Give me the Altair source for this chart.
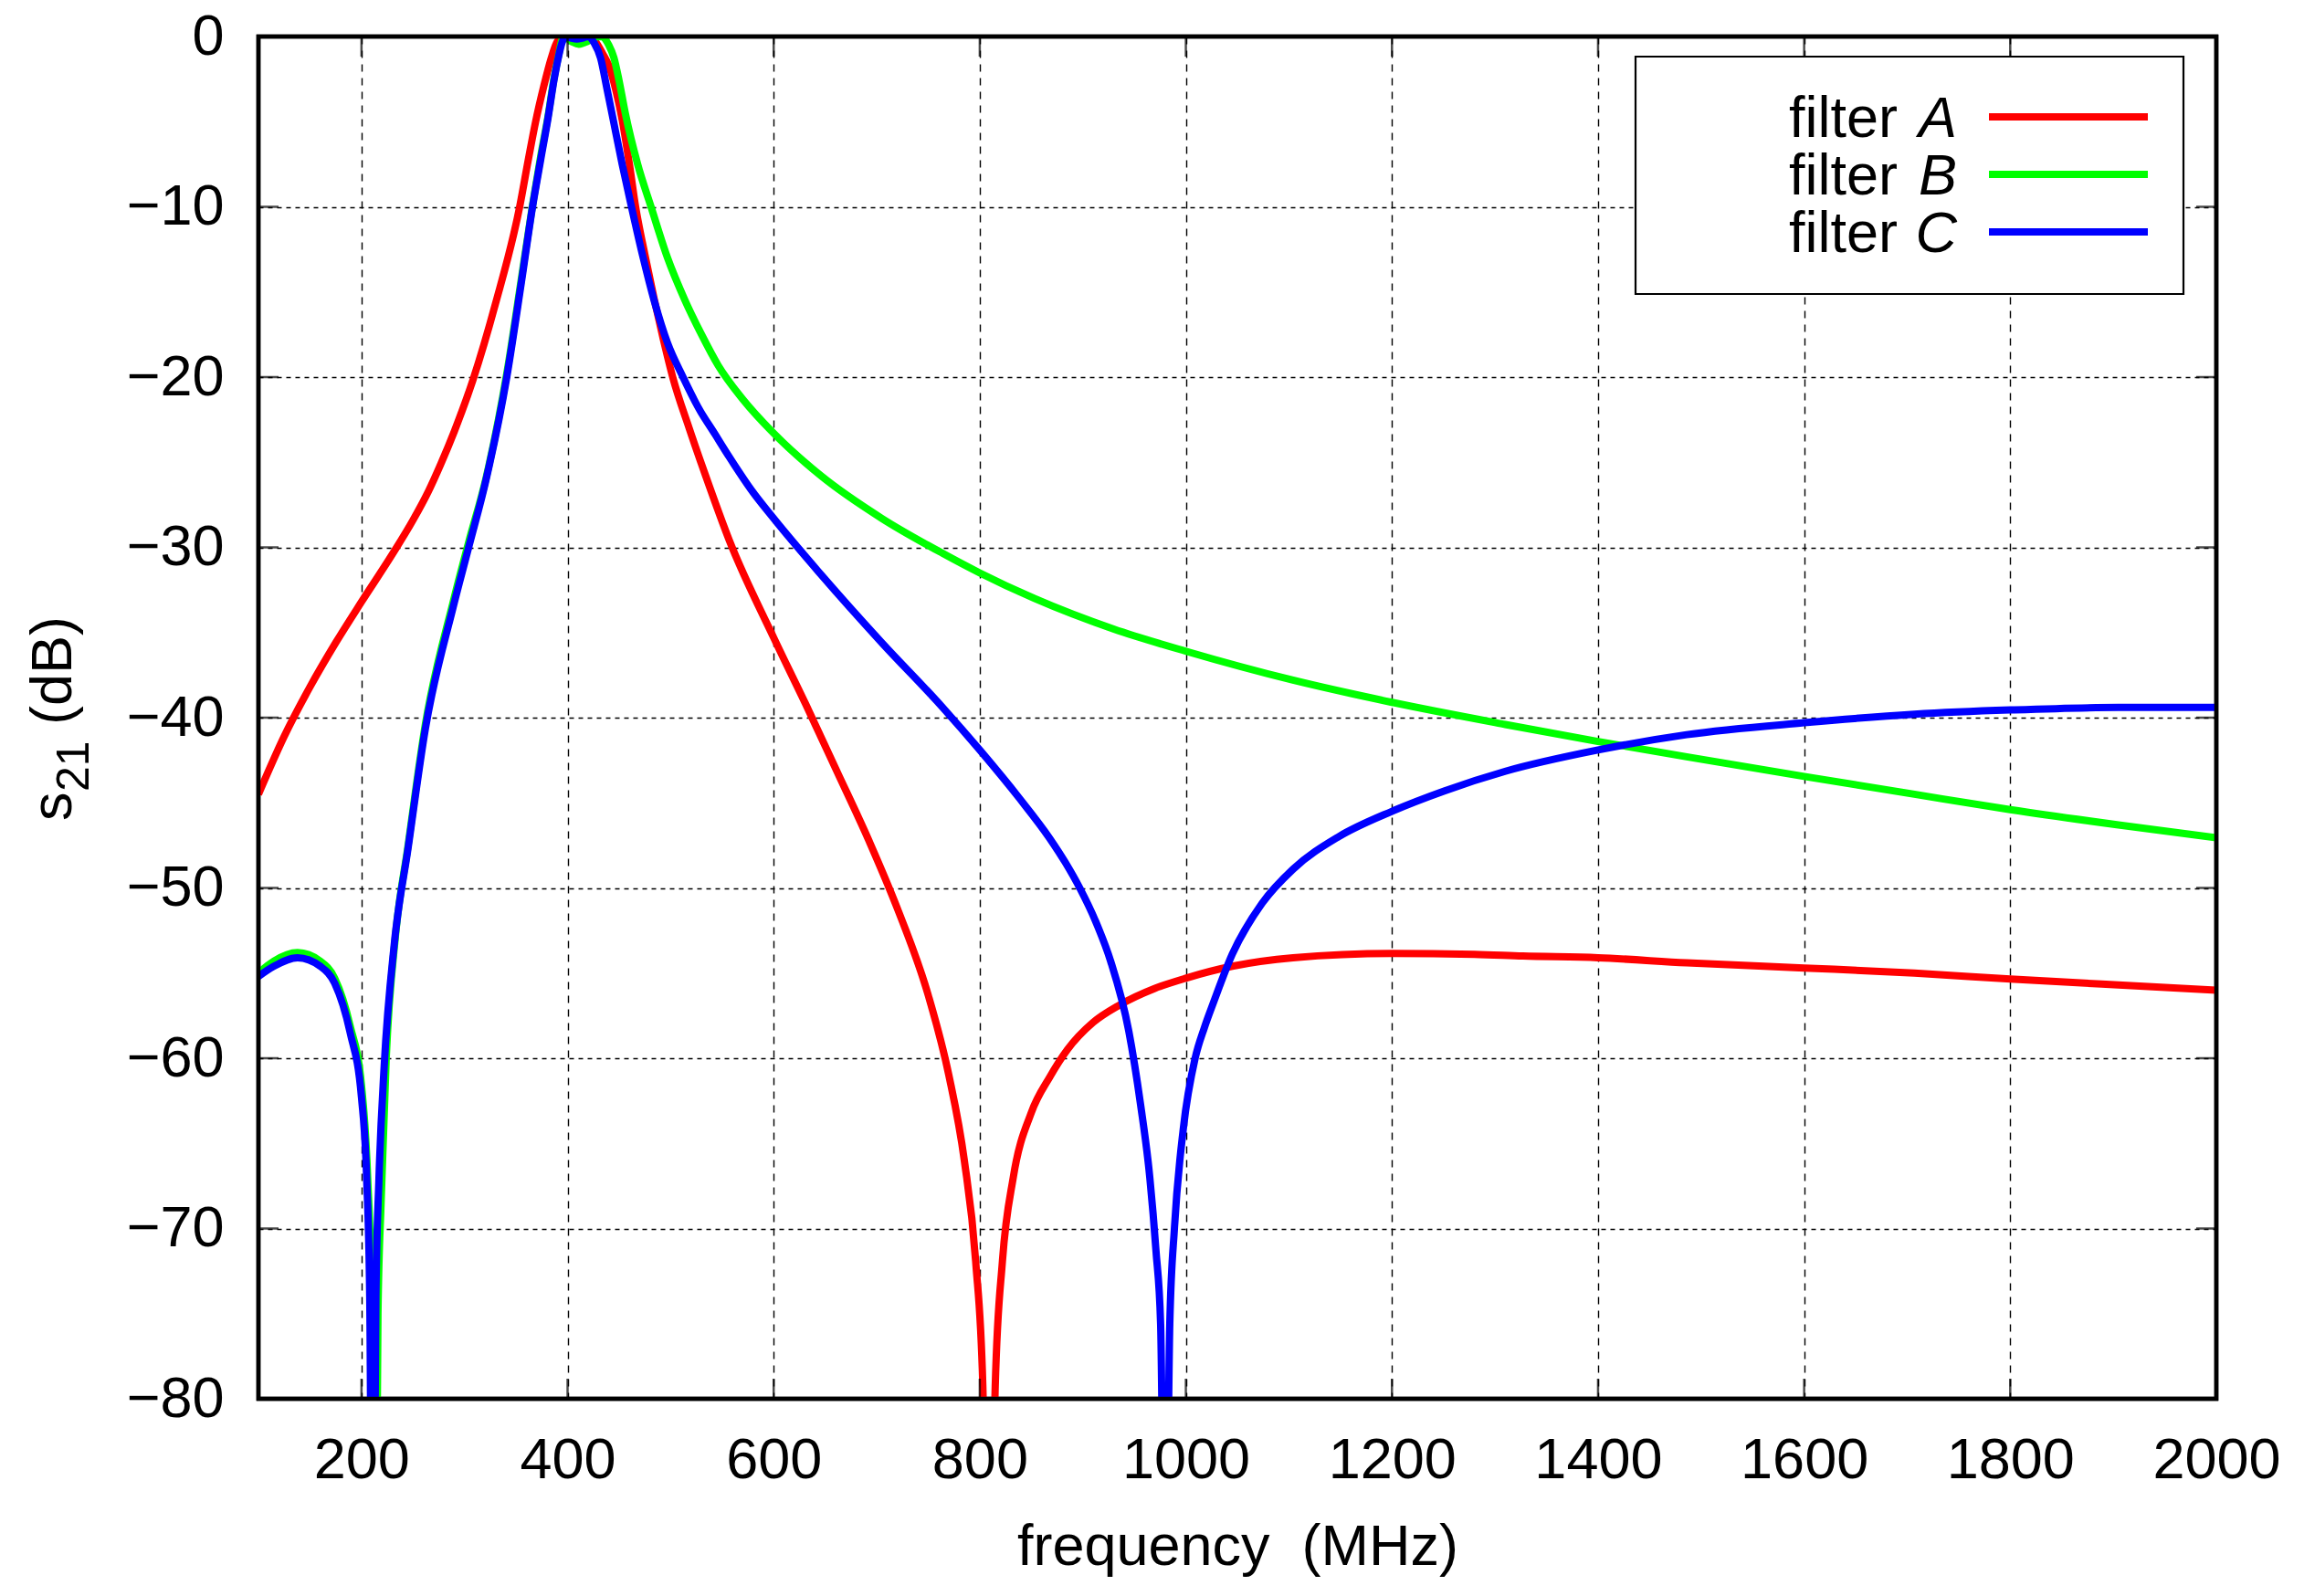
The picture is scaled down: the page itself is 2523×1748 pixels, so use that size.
import altair as alt
import pandas as pd

# ---- data (frequency MHz, s21 dB) ----
filter_a = [
    (100, -44.5), (125, -41.1), (150, -38.2), (175, -35.6), (200, -33.2), (230, -30.4),
    (250, -28.4), (265, -26.7), (277, -25.1), (290, -23.2), (308, -20.2), (330, -15.7),
    (353.5, -10.0), (362, -7.2), (369, -5.0), (377, -2.9), (384, -1.3), (390, -0.3),
    (397, 0.0), (408, -0.2), (419, 0.0), (427, -0.3), (434, -1.0), (440, -1.7),
    (447, -3.2), (453, -4.9), (460, -7.5), (466, -10.0), (475, -12.8), (484, -15.4),
    (493, -17.8), (502, -20.0), (518, -23.0), (534, -25.8), (557, -29.6), (600, -35.3),
    (631, -39.2), (661, -43.1), (693, -47.3), (720, -51.2), (750, -56.3), (770, -61.0),
    (785, -66.0), (796, -71.9), (803, -79.3), (809, -98.0), (815, -79.3), (822, -71.9),
    (832.5, -67.0), (850, -63.2), (868, -61.1), (885, -59.5), (910, -57.9), (935, -56.9),
    (970, -55.9), (1000, -55.3), (1045, -54.6), (1104, -54.1), (1200, -53.85), (1280, -53.9),
    (1327, -54.0), (1400, -54.1), (1486, -54.4), (1600, -54.7), (1707, -55.0), (1800, -55.35),
    (1905, -55.7), (2000, -56.0),
]
filter_b = [
    (100, -55.0), (115, -54.3), (138, -53.8), (160, -54.3), (174, -55.3), (189, -58.1),
    (200, -61.6), (206, -67.0), (210, -75.0), (213, -98.0), (216, -75.0), (219, -68.5),
    (224, -60.0), (233, -52.8), (245, -47.6), (262, -40.4), (289, -33.2), (304, -29.7),
    (321, -25.9), (341, -19.8), (355, -14.3), (366, -9.9), (374, -7.0), (381, -4.7),
    (387, -2.4), (391, -1.2), (396, 0.0), (404, -0.3), (411, -0.45), (419, -0.3),
    (426, -0.05), (433, 0.0), (440, -0.5), (445, -1.25), (450, -2.6), (456, -4.5),
    (468, -7.5), (481, -10.0), (497, -13.0), (514, -15.5), (530, -17.5), (546, -19.3),
    (570, -21.3), (600, -23.3), (646, -25.8), (705, -28.3), (764, -30.35), (800, -31.5),
    (853, -33.0), (930, -34.8), (1000, -36.1), (1104, -37.8), (1200, -39.1), (1310, -40.4),
    (1400, -41.4), (1486, -42.3), (1600, -43.45), (1707, -44.5), (1800, -45.4), (1905, -46.3),
    (2000, -47.05),
]
filter_c = [
    (100, -55.2), (115, -54.6), (138, -54.1), (160, -54.6), (174, -55.6), (189, -58.5),
    (200, -62.3), (205, -67.0), (208, -74.0), (211, -98.0), (214, -74.0), (217, -67.0),
    (222, -60.5), (232, -53.2), (245, -47.75), (262, -40.65), (289, -33.5), (304, -30.0),
    (321, -26.0), (341, -20.0), (355, -14.5), (366, -10.0), (374, -7.2), (381, -4.8),
    (387, -2.5), (391, -1.25), (395, -0.3), (399, 0.0), (404, -0.1), (409, -0.15),
    (414, -0.1), (420, 0.0), (426, -0.4), (432, -1.25), (438, -3.0), (444, -4.8),
    (453, -7.5), (462, -10.0), (473, -12.9), (484, -15.5), (497, -18.0), (512, -20.0),
    (527, -21.8), (543, -23.35), (557, -24.7), (578, -26.6), (600, -28.3), (646, -31.6),
    (705, -35.6), (764, -39.4), (800, -41.9), (838, -44.7), (868, -47.1), (883, -48.5),
    (897, -50.0), (912, -51.9), (927, -54.3), (944.6, -58.4), (956, -62.7), (965, -67.0),
    (971, -71.3), (975.5, -75.6), (980, -95.0), (984.4, -75.6), (989, -69.9), (997.6, -64.1),
    (1009, -60.0), (1018, -58.2), (1027, -56.7), (1045, -53.9), (1074, -50.9), (1104, -48.9),
    (1148, -47.0), (1200, -45.5), (1251, -44.3), (1310, -43.15), (1400, -41.9), (1486, -41.0),
    (1600, -40.3), (1707, -39.8), (1800, -39.55), (1905, -39.4), (2000, -39.4),
]
series_letters = ["A", "B", "C"]
series_colors = ["#ff0000", "#00ff00", "#0000ff"]
x_ticks = [200, 400, 600, 800, 1000, 1200, 1400, 1600, 1800, 2000]
y_ticks = [-80, -70, -60, -50, -40, -30, -20, -10, 0]
x_title = "frequency\u00a0\u00a0(MHz)"

# ---- styling ----
W, H = 2144, 1492
FONT = "Liberation Sans"
FS = 63
LW = 8

xscale = alt.Scale(domain=[100, 2000], nice=False, zero=False)
yscale = alt.Scale(domain=[-80, 0], nice=False, zero=False)

xaxis = alt.Axis(values=x_ticks, format="d", grid=True, gridColor="black", gridDash=[8, 7],
                 gridWidth=1.4, ticks=False, domain=False, labelFont=FONT, labelFontSize=FS,
                 labelColor="black", labelPadding=36, labelFlush=False, labelOverlap=False,
                 title=x_title, titleFont=FONT, titleFontSize=FS, titleFontWeight="normal",
                 titleColor="black", titleBaseline="alphabetic", titleY=181)
yaxis = alt.Axis(values=y_ticks, format="d", grid=True, gridColor="black", gridDash=[5, 5],
                 gridWidth=1.4, ticks=False, domain=False, labelFont=FONT, labelFontSize=FS,
                 labelColor="black", labelPadding=38, labelFlush=False, labelOverlap=False,
                 title=None)


def to_df(pairs):
    return pd.DataFrame({"f": [p[0] for p in pairs], "db": [p[1] for p in pairs]})


one = pd.DataFrame({"k": [0]})
layers = []

# curves
for pairs, col in zip([filter_a, filter_b, filter_c], series_colors):
    layers.append(
        alt.Chart(to_df(pairs)).mark_line(color=col, strokeWidth=LW, clip=True,
                                          interpolate="monotone").encode(
            x=alt.X("f:Q", scale=xscale, axis=xaxis),
            y=alt.Y("db:Q", scale=yscale, axis=yaxis))
    )

# inward ticks on all four sides
xt = pd.DataFrame({"f": x_ticks})
yt = pd.DataFrame({"db": y_ticks})
for ypos in [11, H - 11]:
    layers.append(alt.Chart(xt).mark_tick(orient="vertical", size=22, thickness=2.5,
                                          color="black").encode(
        x=alt.X("f:Q", scale=xscale, axis=xaxis), y=alt.value(ypos)))
for xpos in [11, W - 11]:
    layers.append(alt.Chart(yt).mark_tick(orient="horizontal", size=22, thickness=2.5,
                                          color="black").encode(
        y=alt.Y("db:Q", scale=yscale, axis=yaxis), x=alt.value(xpos)))

# legend box
layers.append(alt.Chart(one).mark_rect(fill="white", stroke="black", strokeWidth=2.2).encode(
    x=alt.value(1508), x2=alt.value(2108), y=alt.value(22), y2=alt.value(282)))
for i, (letter, col) in enumerate(zip(series_letters, series_colors)):
    yb = 110 + 63 * i
    layers.append(alt.Chart(one).mark_text(text="filter", align="right", baseline="alphabetic",
                                           font=FONT, fontSize=FS, color="black").encode(
        x=alt.value(1795), y=alt.value(yb)))
    layers.append(alt.Chart(one).mark_text(text=letter, align="right", baseline="alphabetic",
                                           font=FONT, fontSize=FS, fontStyle="italic",
                                           color="black").encode(
        x=alt.value(1860), y=alt.value(yb)))
    layers.append(alt.Chart(one).mark_rule(color=col, strokeWidth=LW).encode(
        x=alt.value(1895), x2=alt.value(2069), y=alt.value(yb - 22)))

# y title: s_21 (dB)
layers.append(alt.Chart(one).mark_text(text="s", angle=270, align="left", baseline="alphabetic",
                                       font=FONT, fontSize=FS, color="black").encode(
    x=alt.value(-205), y=alt.value(859)))
layers.append(alt.Chart(one).mark_text(text="21", angle=270, align="left", baseline="alphabetic",
                                       font=FONT, fontSize=50, color="black").encode(
    x=alt.value(-186), y=alt.value(827)))
layers.append(alt.Chart(one).mark_text(text="(dB)", angle=270, align="left", baseline="alphabetic",
                                       font=FONT, fontSize=FS, color="black").encode(
    x=alt.value(-205), y=alt.value(754)))

# frame on top
layers.append(alt.Chart(one).mark_rect(fillOpacity=0, stroke="black", strokeWidth=4.5).encode(
    x=alt.value(0), x2=alt.value(W), y=alt.value(0), y2=alt.value(H)))

chart = alt.layer(*layers).properties(
    width=W, height=H,
    padding={"left": 275, "top": 32, "right": 80, "bottom": 200},
    autosize=alt.AutoSizeParams(type="none"),
    background="white",
).configure_view(stroke="black", strokeWidth=4.5)

chart.save("out.html", embed_options={"renderer": "svg", "actions": False})
